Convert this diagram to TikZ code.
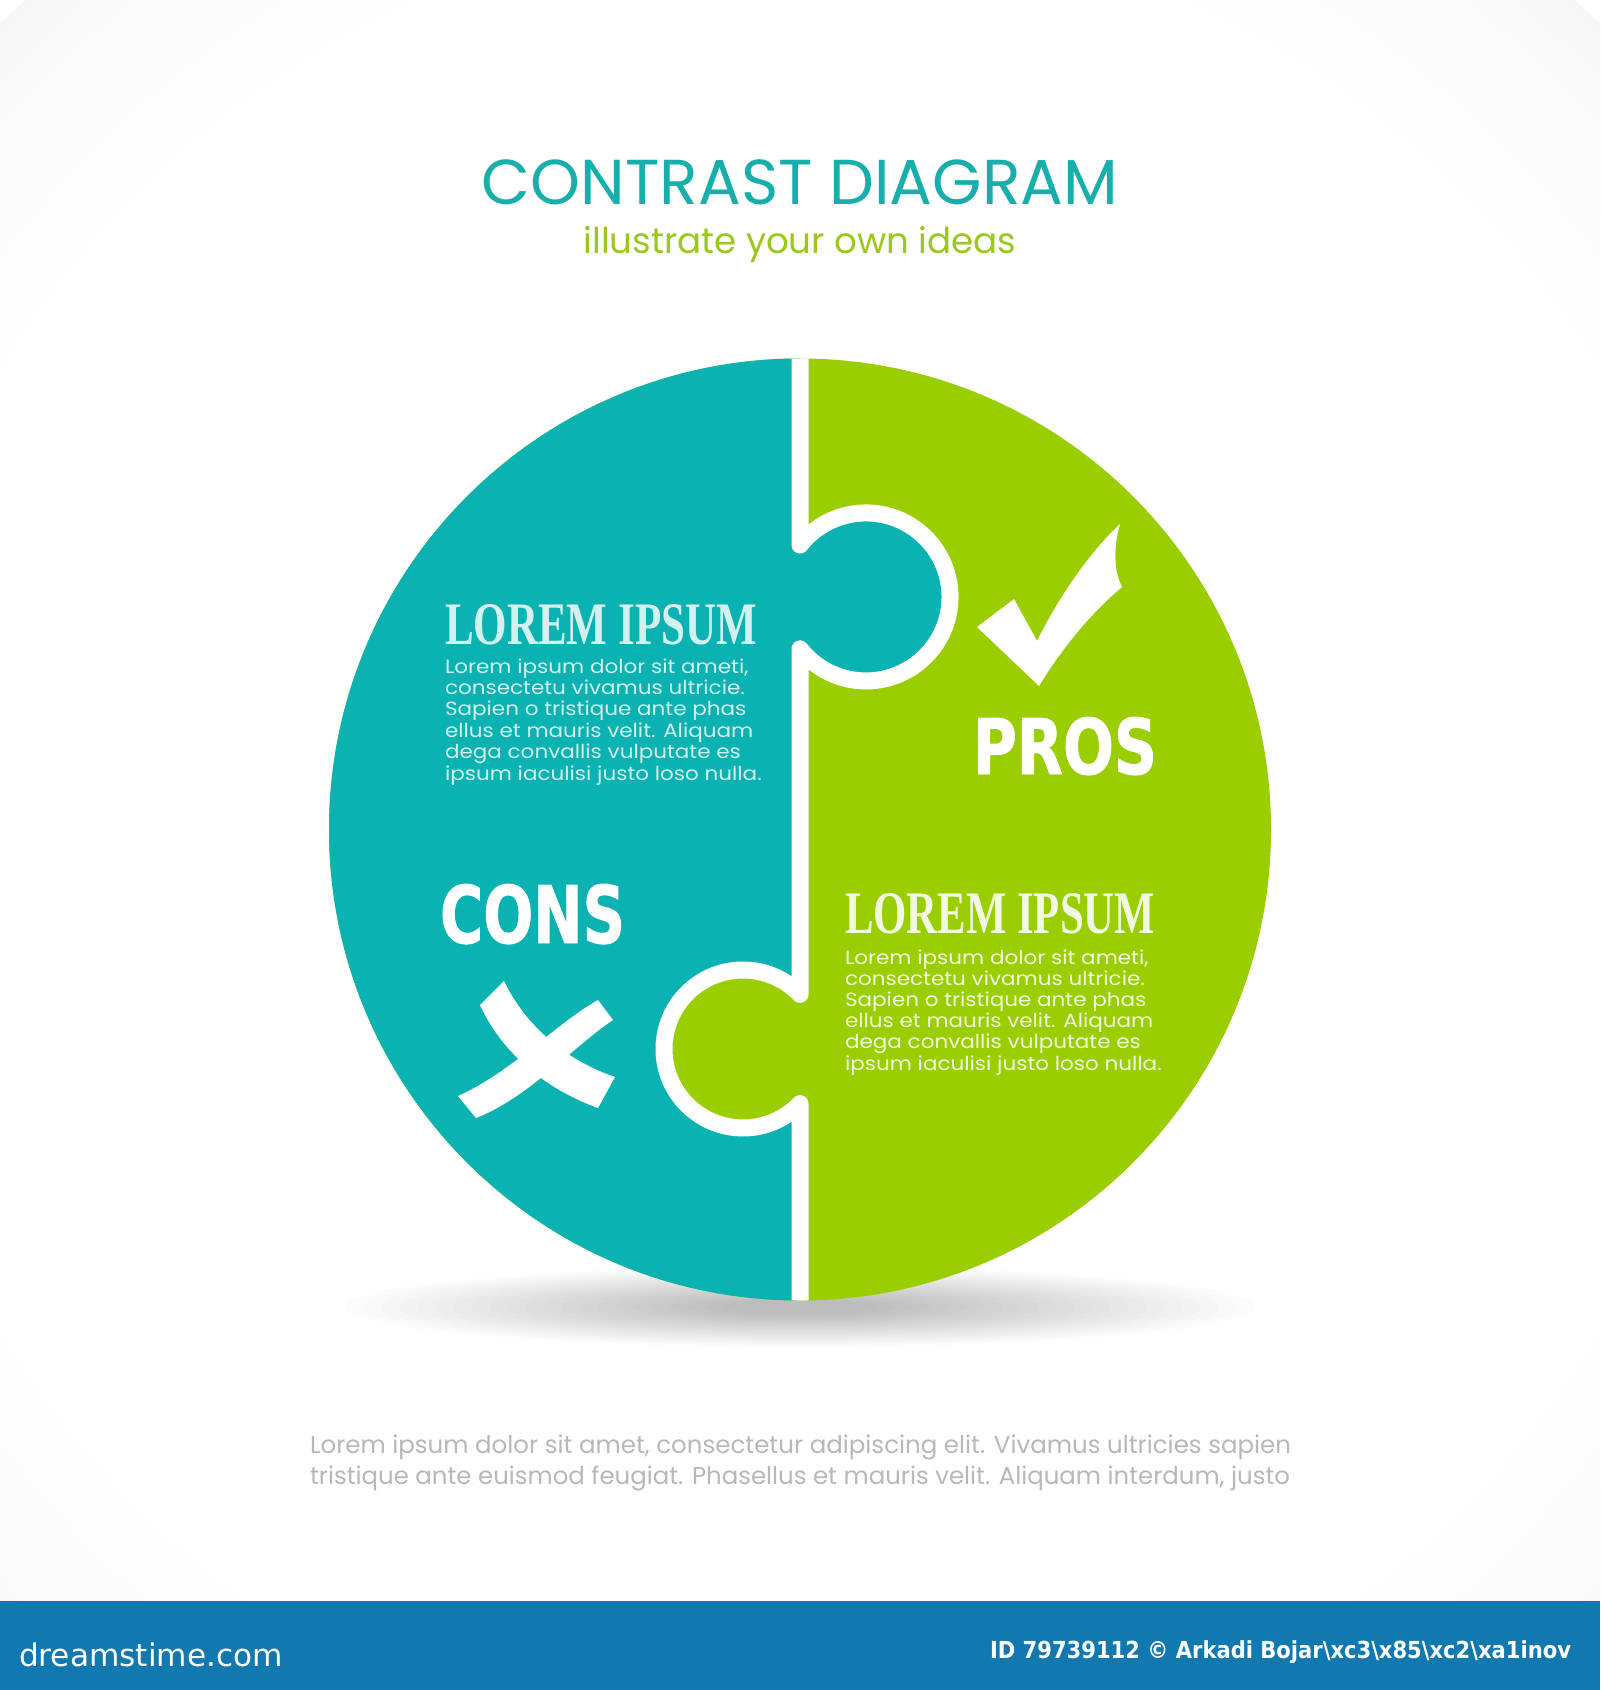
\documentclass[tikz,border=0pt]{standalone}
\usepackage{fontspec}
\setmainfont{Poppins}
\newfontfamily\popp{Poppins}
\newfontfamily\serhead{Liberation Serif}
\newfontfamily\imp{DejaVu Sans Condensed Bold}[FakeBold=1.2]
\newfontfamily\dvs{DejaVu Sans}
\newfontfamily\dvc{DejaVu Sans Condensed Bold}
\definecolor{tealc}{HTML}{0AB2B1}
\definecolor{greenc}{HTML}{9BCE00}
\definecolor{titleteal}{HTML}{17AEAC}
\definecolor{subgreen}{HTML}{9AC81C}
\definecolor{lteal}{HTML}{D2F1EF}
\definecolor{lgreen}{HTML}{F1F9E0}
\definecolor{graytext}{HTML}{B8B8B8}
\definecolor{footblue}{HTML}{1178B0}
\pgfdeclareradialshading{vign}{\pgfpoint{0bp}{0bp}}{color(0bp)=(white); color(20bp)=(white); color(33bp)=(black!8); color(50bp)=(black!13)}
\newcommand{\bodytxt}[1]{\scalebox{1.12}[1]{#1}}
\tikzset{
  txt/.style={inner sep=0pt, outer sep=0pt},
  bodyl/.style={txt, anchor=base west, font=\popp\fontsize{9.6}{10}\selectfont},
  puzzleline/.style={white, line width=8.5pt, line join=round}
}
\begin{document}
\begin{tikzpicture}[x=0.5pt,y=0.5pt]
\useasboundingbox (0,0) rectangle (1600,-1690);
% background
\begin{scope}
  \clip (0,0) rectangle (1600,-1690);
  \shade[shading=vign] (800,-850) circle (1150);
\end{scope}
% shadow
\foreach \i in {0,...,21}
  \fill[black,opacity=0.013] (800,-1307) ellipse ({455-\i*18} and {40-\i*1.5});
% puzzle circle
\begin{scope}
  \clip (800,-829.5) circle (471);
  \fill[greenc] (300,-340) rectangle (1300,-1320);
  \fill[tealc] (300,-340) -- (800,-340) -- (800,-545)
     arc[start angle=141.8, end angle=-141.8, radius=84] -- (800,-994.3)
     arc[start angle=43.8, end angle=316.2, radius=79] -- (800,-1320) -- (300,-1320) -- cycle;
  \draw[puzzleline] (800,-340) -- (800,-545)
     arc[start angle=141.8, end angle=-141.8, radius=84] -- (800,-994.3)
     arc[start angle=43.8, end angle=316.2, radius=79] -- (800,-1320);
\end{scope}
% check mark
\fill[white] (977,-627) -- (1014,-599) -- (1037,-641)
  .. controls (1060,-595) and (1090,-552) .. (1120,-524)
  .. controls (1113,-548) and (1114,-572) .. (1122,-587)
  .. controls (1092,-612) and (1062,-648) .. (1039,-686) -- cycle;
% X mark
\fill[white] (480,-1005) -- (504,-981)
  .. controls (525,-1025) and (565,-1060) .. (615,-1077)
  -- (598,-1108)
  .. controls (548,-1090) and (503,-1055) .. cycle;
\fill[white] (598,-1000) -- (613,-1020)
  .. controls (575,-1045) and (528,-1098) .. (476,-1118)
  -- (458,-1096)
  .. controls (512,-1072) and (558,-1022) .. cycle;
% titles
\node[txt, anchor=base, text=titleteal] (title) at (800,-205) {\resizebox{318pt}{!}{\popp CONTRAST DIAGRAM}};
\node[txt, anchor=base, text=subgreen] (subtitle) at (800,-254) {\resizebox{216.5pt}{!}{\popp illustrate your own ideas}};
% left block
\node[txt, anchor=base west, text=lteal] (lhead) at (445,-644) {\resizebox{156pt}{20pt}{\serhead\bfseries LOREM IPSUM}};
\node[bodyl, text=lteal] (l1) at (445,-673) {\bodytxt{Lorem ipsum dolor sit ameti,}};
\node[bodyl, text=lteal] (l2) at (445,-694.4) {\bodytxt{consectetu vivamus ultricie.}};
\node[bodyl, text=lteal] (l3) at (445,-715.8) {\bodytxt{Sapien o tristique ante phas}};
\node[bodyl, text=lteal] (l4) at (445,-737.2) {\bodytxt{ellus et mauris velit. Aliquam}};
\node[bodyl, text=lteal] (l5) at (445,-758.6) {\bodytxt{dega convallis vulputate es}};
\node[bodyl, text=lteal] (l6) at (445,-780) {\bodytxt{ipsum iaculisi justo loso nulla.}};
% right block
\node[txt, anchor=base west, text=lgreen] (rhead) at (845,-933) {\resizebox{155pt}{20pt}{\serhead\bfseries LOREM IPSUM}};
\node[bodyl, text=lgreen] (r1) at (845,-964) {\bodytxt{Lorem ipsum dolor sit ameti,}};
\node[bodyl, text=lgreen] (r2) at (845,-985.2) {\bodytxt{consectetu vivamus ultricie.}};
\node[bodyl, text=lgreen] (r3) at (845,-1006.4) {\bodytxt{Sapien o tristique ante phas}};
\node[bodyl, text=lgreen] (r4) at (845,-1027.6) {\bodytxt{ellus et mauris velit. Aliquam}};
\node[bodyl, text=lgreen] (r5) at (845,-1048.8) {\bodytxt{dega convallis vulputate es}};
\node[bodyl, text=lgreen] (r6) at (845,-1070) {\bodytxt{ipsum iaculisi justo loso nulla.}};
% pros / cons
\node[txt, anchor=base west, text=white] (pros) at (973,-774) {\resizebox{92pt}{28.5pt}{\imp PROS}};
\node[txt, anchor=base west, text=white] (cons) at (440,-943) {\resizebox{92.5pt}{29.5pt}{\imp CONS}};
% bottom paragraph
\node[txt, anchor=base west, text=graytext] (p1) at (310,-1453) {\resizebox{490.5pt}{!}{\popp Lorem ipsum dolor sit amet, consectetur adipiscing elit. Vivamus ultricies sapien}};
\node[txt, anchor=base west, text=graytext] (p2) at (310,-1484) {\resizebox{490pt}{!}{\popp tristique ante euismod feugiat. Phasellus et mauris velit. Aliquam interdum, justo}};
% footer
\fill[footblue] (0,-1601) rectangle (1600,-1690);
\node[txt, anchor=base west, text=white] (brand) at (19,-1666) {\resizebox{132pt}{!}{\dvs dreamstime.com}};
\node[txt, anchor=base west, text=white] (imgid) at (990,-1658) {\resizebox{290.5pt}{!}{\dvc ID 79739112 © Arkadi Bojar\textbackslash xc3\textbackslash x85\textbackslash xc2\textbackslash xa1inov}};
\end{tikzpicture}
\end{document}
